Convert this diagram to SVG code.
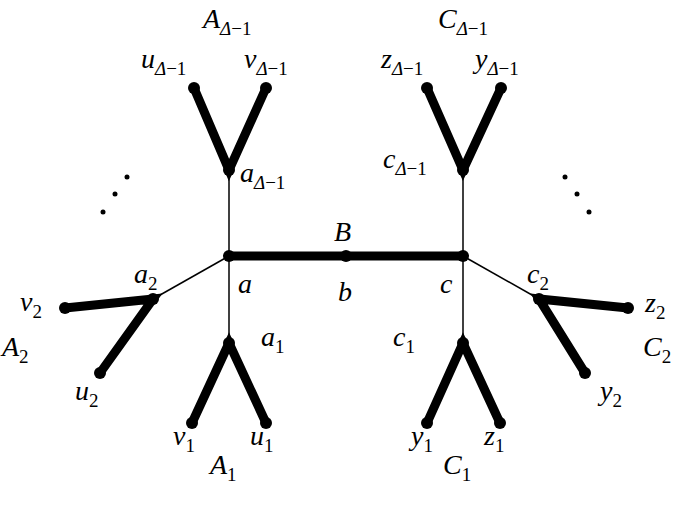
<svg xmlns="http://www.w3.org/2000/svg" width="685" height="505" viewBox="0 0 685 505">
<style>
.t{stroke:#000;stroke-width:1.5}
.k{stroke:#000;stroke-width:9;stroke-linecap:round}
text{font-family:"Liberation Serif",serif;font-style:italic;font-size:28px;fill:#000}
.s{font-size:19px;font-style:normal}
.si{font-size:19px}
</style>
<rect width="685" height="505" fill="#fff"/>
<g id="edges">
<line class="t" x1="229" y1="256" x2="229" y2="170"/>
<line class="t" x1="463" y1="256" x2="463" y2="170"/>
<line class="t" x1="229" y1="256" x2="229" y2="343"/>
<line class="t" x1="463" y1="256" x2="463" y2="343"/>
<line class="t" x1="229" y1="256" x2="153" y2="299"/>
<line class="t" x1="463" y1="256" x2="539" y2="299"/>
<line class="k" x1="229" y1="256" x2="463" y2="256"/>
<polyline class="k" fill="none" points="194,88 229,170 266,88"/>
<polyline class="k" fill="none" points="427,88 463,170 501,88"/>
<polyline class="k" fill="none" points="192,423 229,343 266,423"/>
<polyline class="k" fill="none" points="427,423 463,343 500,423"/>
<polyline class="k" fill="none" points="65,308 153,299 100,373"/>
<polyline class="k" fill="none" points="628,308 539,299 585,373"/>
</g>
<g id="nodes">
<g id="a"><circle cx="229" cy="256" r="6"/><text x="238" y="293">a</text></g>
<g id="b"><circle cx="346" cy="256" r="6"/><text x="338" y="301">b</text><text x="334" y="241">B</text></g>
<g id="c"><circle cx="463" cy="256" r="6"/><text x="440" y="293">c</text></g>
<g id="aD"><circle cx="229" cy="170" r="6"/><text x="240" y="182">a<tspan class="si" dy="7">Δ</tspan><tspan class="s">−1</tspan></text></g>
<g id="cD"><circle cx="463" cy="170" r="6"/><text x="383" y="168">c<tspan class="si" dy="7">Δ</tspan><tspan class="s">−1</tspan></text></g>
<g id="uD"><circle cx="194" cy="88" r="6"/><text x="141" y="68">u<tspan class="si" dy="7">Δ</tspan><tspan class="s">−1</tspan></text></g>
<g id="vD"><circle cx="266" cy="88" r="6"/><text x="244" y="68">v<tspan class="si" dy="7">Δ</tspan><tspan class="s">−1</tspan></text></g>
<g id="zD"><circle cx="427" cy="88" r="6"/><text x="381" y="68">z<tspan class="si" dy="7">Δ</tspan><tspan class="s">−1</tspan></text></g>
<g id="yD"><circle cx="501" cy="88" r="6"/><text x="475" y="68">y<tspan class="si" dy="7">Δ</tspan><tspan class="s">−1</tspan></text></g>
<g id="a1"><circle cx="229" cy="343" r="6"/><text x="261" y="346">a<tspan class="s" dy="7">1</tspan></text></g>
<g id="c1"><circle cx="463" cy="343" r="6"/><text x="393" y="346">c<tspan class="s" dy="7">1</tspan></text></g>
<g id="v1"><circle cx="192" cy="423" r="6"/><text x="173" y="445">v<tspan class="s" dy="7">1</tspan></text></g>
<g id="u1"><circle cx="266" cy="423" r="6"/><text x="250" y="445">u<tspan class="s" dy="7">1</tspan></text></g>
<g id="y1"><circle cx="427" cy="423" r="6"/><text x="411" y="445">y<tspan class="s" dy="7">1</tspan></text></g>
<g id="z1"><circle cx="500" cy="423" r="6"/><text x="484" y="445">z<tspan class="s" dy="7">1</tspan></text></g>
<g id="a2"><circle cx="153" cy="299" r="6"/><text x="134" y="283">a<tspan class="s" dy="7">2</tspan></text></g>
<g id="c2"><circle cx="539" cy="299" r="6"/><text x="527" y="283">c<tspan class="s" dy="7">2</tspan></text></g>
<g id="v2"><circle cx="65" cy="308" r="6"/><text x="20" y="311">v<tspan class="s" dy="7">2</tspan></text></g>
<g id="u2"><circle cx="100" cy="373" r="6"/><text x="75" y="400">u<tspan class="s" dy="7">2</tspan></text></g>
<g id="z2"><circle cx="628" cy="308" r="6"/><text x="645" y="312">z<tspan class="s" dy="7">2</tspan></text></g>
<g id="y2"><circle cx="585" cy="373" r="6"/><text x="600" y="400">y<tspan class="s" dy="7">2</tspan></text></g>
</g>
<g id="labels">
<text x="203" y="28">A<tspan class="si" dy="7">Δ</tspan><tspan class="s">−1</tspan></text>
<text x="438" y="28">C<tspan class="si" dy="7">Δ</tspan><tspan class="s">−1</tspan></text>
<text x="210" y="474">A<tspan class="s" dy="7">1</tspan></text>
<text x="443" y="474">C<tspan class="s" dy="7">1</tspan></text>
<text x="2" y="356">A<tspan class="s" dy="7">2</tspan></text>
<text x="643" y="356">C<tspan class="s" dy="7">2</tspan></text>
<circle cx="127" cy="177" r="2.5"/><circle cx="115" cy="194" r="2.5"/><circle cx="103" cy="212" r="2.5"/>
<circle cx="565" cy="177" r="2.5"/><circle cx="577" cy="194" r="2.5"/><circle cx="589" cy="212" r="2.5"/>
</g>
</svg>
